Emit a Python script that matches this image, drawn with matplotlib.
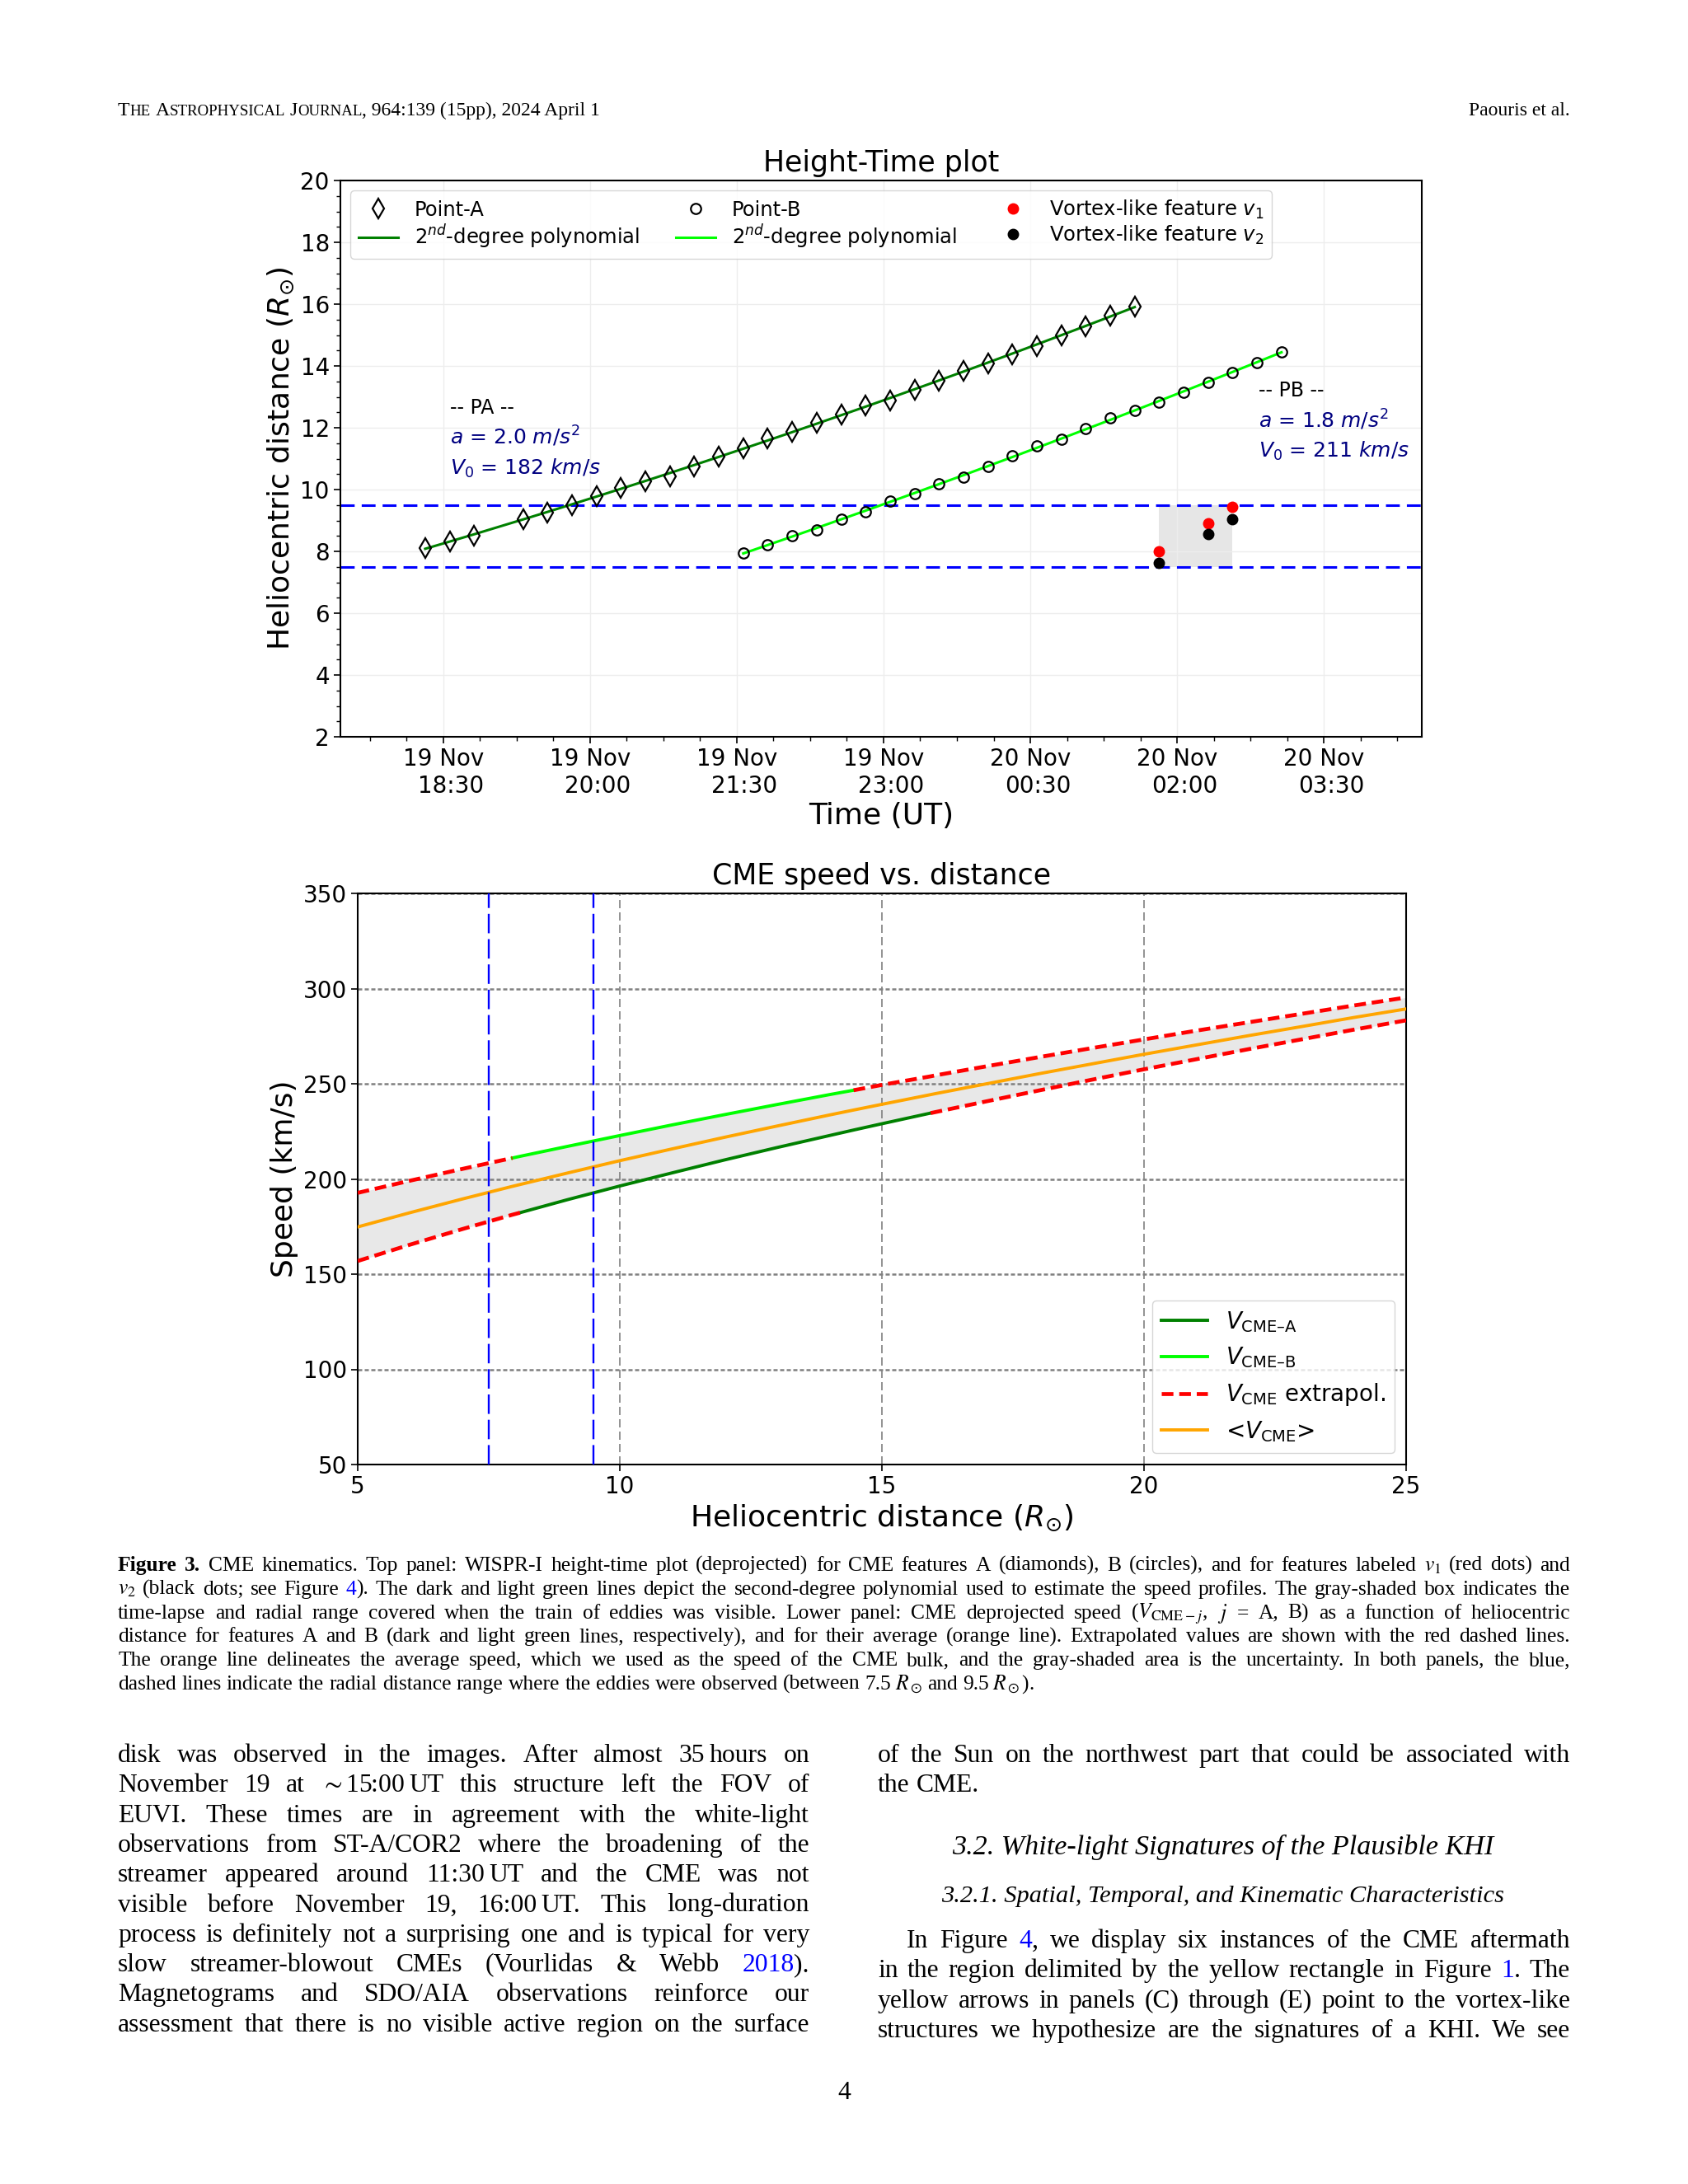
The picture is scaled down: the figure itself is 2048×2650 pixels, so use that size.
import re
import numpy as np
import pandas as pd
import matplotlib
matplotlib.use('Agg')
import matplotlib.pyplot as plt
import matplotlib.dates as mdates
from matplotlib.ticker import AutoMinorLocator, MultipleLocator, FixedLocator

# ---------------- data ----------------
a_times = ["18:19", "18:34", "18:49", "19:19", "19:34", "19:49", "20:04", "20:19",
           "20:34", "20:49", "21:04", "21:19", "21:34", "21:49", "22:04", "22:19",
           "22:34", "22:49", "23:04", "23:19", "23:34", "23:49", "00:04", "00:19",
           "00:34", "00:49", "01:04", "01:19", "01:34"]
a_height = [8.11, 8.33, 8.51, 9.04, 9.26, 9.50, 9.80, 10.06, 10.28, 10.44, 10.75,
            11.07, 11.34, 11.66, 11.88, 12.17, 12.42, 12.73, 12.88, 13.24, 13.53,
            13.84, 14.09, 14.37, 14.64, 14.99, 15.28, 15.64, 15.93]

b_times = ["21:34", "21:49", "22:04", "22:19", "22:34", "22:49", "23:04", "23:19",
           "23:34", "23:49", "00:04", "00:19", "00:34", "00:49", "01:04", "01:19",
           "01:34", "01:49", "02:04", "02:19", "02:34", "02:49", "03:04"]
b_height = [7.95, 8.22, 8.51, 8.69, 9.04, 9.29, 9.62, 9.86, 10.20, 10.39, 10.75,
            11.09, 11.42, 11.64, 11.97, 12.31, 12.55, 12.82, 13.15, 13.48, 13.80,
            14.12, 14.46]

vortex_times = ["01:49", "02:19", "02:34"]
v1_height = [7.99, 8.91, 9.44]
v2_height = [7.62, 8.55, 9.04]
eddy_range = [7.5, 9.5]
eddy_times = ["01:49", "02:34"]

# speed vs distance
dist = [5, 6, 7, 7.95, 8.1, 9, 10, 11, 12, 13, 14, 14.46, 15, 15.93, 16, 17, 18,
        19, 20, 21, 22, 23, 24, 25]
speed_a = [156.9, 165.5, 173.7, 181.2, 182.3, 189.1, 196.3, 203.2, 210.0, 216.5,
           222.8, 225.7, 229.0, 234.6, 235.0, 240.8, 246.5, 252.1, 257.6, 262.9,
           268.2, 273.3, 278.4, 283.3]
speed_b = [192.7, 199.1, 205.3, 211.0, 211.9, 217.1, 222.8, 228.4, 233.8, 239.1,
           244.3, 246.6, 249.4, 253.9, 254.3, 259.2, 264.0, 268.7, 273.3, 277.9,
           282.3, 286.7, 291.1, 295.3]
speed_mean = [174.8, 182.3, 189.5, 196.1, 197.1, 203.1, 209.6, 215.8, 221.9, 227.8,
              233.6, 236.2, 239.2, 244.3, 244.7, 250.0, 255.3, 260.4, 265.5, 270.4,
              275.3, 280.0, 284.8, 289.3]
range_a = [8.1, 15.93]
range_b = [7.95, 14.46]


def to_num(hhmm):
    day = "2021-11-20" if int(hhmm[:2]) < 12 else "2021-11-19"
    return mdates.date2num(pd.Timestamp(day + " " + hhmm))


W, H = 2048, 2650
fig = plt.figure(figsize=(W / 100, H / 100), dpi=100)
fig.patch.set_facecolor('white')

# ---------------- top panel: height-time ----------------
ax = fig.add_axes([413 / W, 1 - 894 / H, (1725 - 413) / W, (894 - 219) / H])
ta = np.array([to_num(t) for t in a_times])
tb = np.array([to_num(t) for t in b_times])
tv = np.array([to_num(t) for t in vortex_times])

fit_a = np.polyval(np.polyfit(ta - ta[0], a_height, 2), ta - ta[0])
fit_b = np.polyval(np.polyfit(tb - tb[0], b_height, 2), tb - tb[0])

te = [to_num(t) for t in eddy_times]
ax.fill_between(te, eddy_range[0], eddy_range[1], color='0.9', lw=0, zorder=1)
for yv in eddy_range:
    ax.axhline(yv, color='blue', lw=2.2, ls=(0, (5.5, 2.8)), zorder=2)

fa, = ax.plot(ta, fit_a, color='green', lw=2.2, zorder=3, label='2$^{nd}$-degree polynomial')
fb, = ax.plot(tb, fit_b, color='lime', lw=2.2, zorder=3, label='2$^{nd}$-degree polynomial')
pa, = ax.plot(ta, a_height, ls='none', marker='d', ms=12, mfc='none', mec='black',
              mew=1.6, zorder=4, label='Point-A')
pb, = ax.plot(tb, b_height, ls='none', marker='o', ms=9, mfc='none', mec='black',
              mew=1.6, zorder=4, label='Point-B')
v1, = ax.plot(tv, v1_height, ls='none', marker='o', ms=9, color='red', zorder=5,
              label='Vortex-like feature $v_1$')
v2, = ax.plot(tv, v2_height, ls='none', marker='o', ms=9, color='black', zorder=5,
              label='Vortex-like feature $v_2$')

ax.text(to_num("18:34"), 12.64, '-- PA --', fontsize=17, va='center')
ax.text(to_num("18:34"), 11.71, r'$a$ = 2.0 $m/s^2$', fontsize=18, color='navy', va='center')
ax.text(to_num("18:34"), 10.69, r'$V_0$ = 182 $km/s$', fontsize=18, color='navy', va='center')
ax.text(to_num("02:50"), 13.20, '-- PB --', fontsize=17, va='center')
ax.text(to_num("02:50"), 12.24, r'$a$ = 1.8 $m/s^2$', fontsize=18, color='navy', va='center')
ax.text(to_num("02:50"), 11.23, r'$V_0$ = 211 $km/s$', fontsize=18, color='navy', va='center')

ax.set_ylim(2, 20)
ax.set_xlim(to_num("17:27"), to_num("04:30"))
ax.yaxis.set_major_locator(MultipleLocator(2))
ax.yaxis.set_minor_locator(AutoMinorLocator(4))
ticks = mdates.date2num(pd.date_range("2021-11-19 18:30", periods=7, freq="90min"))
ax.xaxis.set_major_locator(FixedLocator(ticks))
ax.xaxis.set_minor_locator(AutoMinorLocator(4))
ax.xaxis.set_major_formatter(mdates.DateFormatter('%d %b\n%H:%M'))
ax.tick_params(which='major', labelsize=20, length=6, width=1.2)
ax.tick_params(which='minor', length=3.5, width=1)
ax.grid(which='major', color='0.93', lw=1)
for s in ax.spines.values():
    s.set_linewidth(1.5)
ax.set_title('Height-Time plot', fontsize=25, pad=8)
ax.set_xlabel('Time (UT)', fontsize=26, labelpad=4)
ax.set_ylabel(r'Heliocentric distance ($R_{\odot}$)', fontsize=26)
ax.legend(handles=[pa, fa, pb, fb, v1, v2], ncol=3, loc='upper left', fontsize=17.5,
          handlelength=2.0, columnspacing=1.8, labelspacing=0.15, borderpad=0.4)

# ---------------- bottom panel: speed vs distance ----------------
ax2 = fig.add_axes([434 / W, 1 - 1777 / H, (1706 - 434) / W, (1777 - 1084) / H])
d = np.array(dist)
sa = np.array(speed_a)
sb = np.array(speed_b)
in_a = (d >= range_a[0]) & (d <= range_a[1])
in_b = (d >= range_b[0]) & (d <= range_b[1])

ax2.fill_between(d, sa, sb, color='0.91', lw=0, zorder=1)
lm, = ax2.plot(d, speed_mean, color='orange', lw=2.8, zorder=3)
la, = ax2.plot(d[in_a], sa[in_a], color='green', lw=2.8, zorder=3)
lb, = ax2.plot(d[in_b], sb[in_b], color='lime', lw=2.8, zorder=3)
ext_style = dict(color='red', lw=3.4, ls=(0, (3, 1.5)), zorder=4)
le, = ax2.plot(d[d <= range_a[0]], sa[d <= range_a[0]], **ext_style)
ax2.plot(d[d >= range_a[1]], sa[d >= range_a[1]], **ext_style)
ax2.plot(d[d <= range_b[0]], sb[d <= range_b[0]], **ext_style)
ax2.plot(d[d >= range_b[1]], sb[d >= range_b[1]], **ext_style)
for xv in eddy_range:
    ax2.axvline(xv, color='blue', lw=1.7, ls=(0, (10, 3)), zorder=5)

ax2.set_xlim(5, 25)
ax2.set_ylim(50, 350)
ax2.xaxis.set_major_locator(MultipleLocator(5))
ax2.yaxis.set_major_locator(MultipleLocator(50))
ax2.grid(axis='y', color='gray', lw=1.8, ls=(0, (2, 1.2)), zorder=0)
ax2.grid(axis='x', color='gray', lw=1.2, ls=(0, (6, 3)), zorder=0)
ax2.tick_params(labelsize=20, length=6, width=1.2)
for s in ax2.spines.values():
    s.set_linewidth(1.5)
ax2.set_title('CME speed vs. distance', fontsize=25, pad=8)
ax2.set_xlabel(r'Heliocentric distance ($R_{\odot}$)', fontsize=26)
ax2.set_ylabel('Speed (km/s)', fontsize=26)
ax2.legend([la, lb, le, lm], ['$V_{\\mathrm{CME\u2013A}}$', '$V_{\\mathrm{CME\u2013B}}$',
                               r'$V_{\mathrm{CME}}$ extrapol.', r'<$V_{\mathrm{CME}}$>'],
           loc='lower right', fontsize=20)

# ---------------- page text ----------------
renderer = fig.canvas.get_renderer()
SERIF = ['Liberation Serif', 'DejaVu Serif']
PX = 100 / 72


def put(x, y, s, size, **kw):
    return fig.text(x / W, 1 - y / H, s, fontsize=size, va='baseline', ha='left',
                    family=SERIF, math_fontfamily='stix', **kw)


def draw_word(y, word, size, style='normal'):
    texts = []
    x = 0
    blue = bold = False
    for piece in re.split(r'([|#~])', word):
        if piece == '|':
            blue = not blue
        elif piece == '#':
            bold = not bold
        elif piece == '~':
            x += 0.17 * size * PX
        elif piece:
            t = put(x, y, piece, size, color='blue' if blue else 'black',
                    weight='bold' if bold else 'normal', style=style)
            texts.append(t)
            x += t.get_window_extent(renderer).width
    return texts, x


def text_line(line, x0, x1, y, size, justify=True, style='normal'):
    placed = [draw_word(y, w, size, style) for w in line.split(' ')]
    total = sum(wd for _, wd in placed)
    if justify and len(placed) > 1:
        gap = (x1 - x0 - total) / (len(placed) - 1)
    else:
        gap = 0.25 * size * PX
    x = x0
    for texts, wd in placed:
        for t in texts:
            t.set_x(t.get_position()[0] + x / W)
        x += wd + gap


def centered(s, xc, y, target, size, style='italic'):
    t = put(0, y, s, size, style=style)
    w = t.get_window_extent(renderer).width
    t.set_fontsize(size * target / w)
    w = t.get_window_extent(renderer).width
    t.set_x((xc - w / 2) / W)


# running header in small caps
x = 143
for s, size in [('T', 17), ('HE', 13.6), (None, 0), ('A', 17), ('STROPHYSICAL', 13.6),
                (None, 0), ('J', 17), ('OURNAL', 13.6),
                (', 964:139 (15pp), 2024 April 1', 17)]:
    if s is None:
        x += 0.25 * 17 * PX
        continue
    t = put(x, 140, s, size)
    x += t.get_window_extent(renderer).width
fig.text(1905 / W, 1 - 140 / H, 'Paouris et al.', fontsize=17, family=SERIF,
         ha='right', va='baseline')

caption = [
    "#Figure# #3.# CME kinematics. Top panel: WISPR-I height-time plot (deprojected) for CME features A (diamonds), B (circles), and for features labeled $v_1$ (red dots) and",
    "$v_2$ (black dots; see Figure |4|). The dark and light green lines depict the second-degree polynomial used to estimate the speed profiles. The gray-shaded box indicates the",
    "time-lapse and radial range covered when the train of eddies was visible. Lower panel: CME deprojected speed ($V_{\\mathrm{CME}-j}$, $j$ = A, B) as a function of heliocentric",
    "distance for features A and B (dark and light green lines, respectively), and for their average (orange line). Extrapolated values are shown with the red dashed lines.",
    "The orange line delineates the average speed, which we used as the speed of the CME bulk, and the gray-shaded area is the uncertainty. In both panels, the blue,",
    "dashed lines indicate the radial distance range where the eddies were observed (between 7.5~$R_\\odot$ and 9.5~$R_\\odot$).",
]
for i, line in enumerate(caption):
    text_line(line, 143, 1905, 1906 + 28.8 * i, 18.4, justify=i < len(caption) - 1)

left_col = [
    "disk was observed in the images. After almost 35~hours on",
    "November 19 at $\\sim$15:00~UT this structure left the FOV of",
    "EUVI. These times are in agreement with the white-light",
    "observations from ST-A/COR2 where the broadening of the",
    "streamer appeared around 11:30~UT and the CME was not",
    "visible before November 19, 16:00~UT. This long-duration",
    "process is definitely not a surprising one and is typical for very",
    "slow streamer-blowout CMEs (Vourlidas & Webb |2018|).",
    "Magnetograms and SDO/AIA observations reinforce our",
    "assessment that there is no visible active region on the surface",
]
BODY = 22.8
for i, line in enumerate(left_col):
    text_line(line, 143, 982, 2138 + 36.3 * i, BODY)

text_line("of the Sun on the northwest part that could be associated with", 1065, 1905, 2138, BODY)
text_line("the CME.", 1065, 1905, 2174, BODY, justify=False)
centered("3.2. White-light Signatures of the Plausible KHI", 1484, 2250, 655, BODY)
centered("3.2.1. Spatial, Temporal, and Kinematic Characteristics", 1484, 2308, 681, 20)
right_par = [
    "In Figure |4|, we display six instances of the CME aftermath",
    "in the region delimited by the yellow rectangle in Figure |1|. The",
    "yellow arrows in panels (C) through (E) point to the vortex-like",
    "structures we hypothesize are the signatures of a KHI. We see",
]
for i, line in enumerate(right_par):
    text_line(line, 1100 if i == 0 else 1065, 1905, 2363 + 36.3 * i, BODY)

fig.text(1024 / W, 1 - 2547 / H, '4', fontsize=BODY, family=SERIF, ha='center', va='baseline')

fig.canvas.draw()
plt.setp(ax.get_xticklabels(), multialignment='right')
fig.savefig('out.png', dpi=100, facecolor='white')
